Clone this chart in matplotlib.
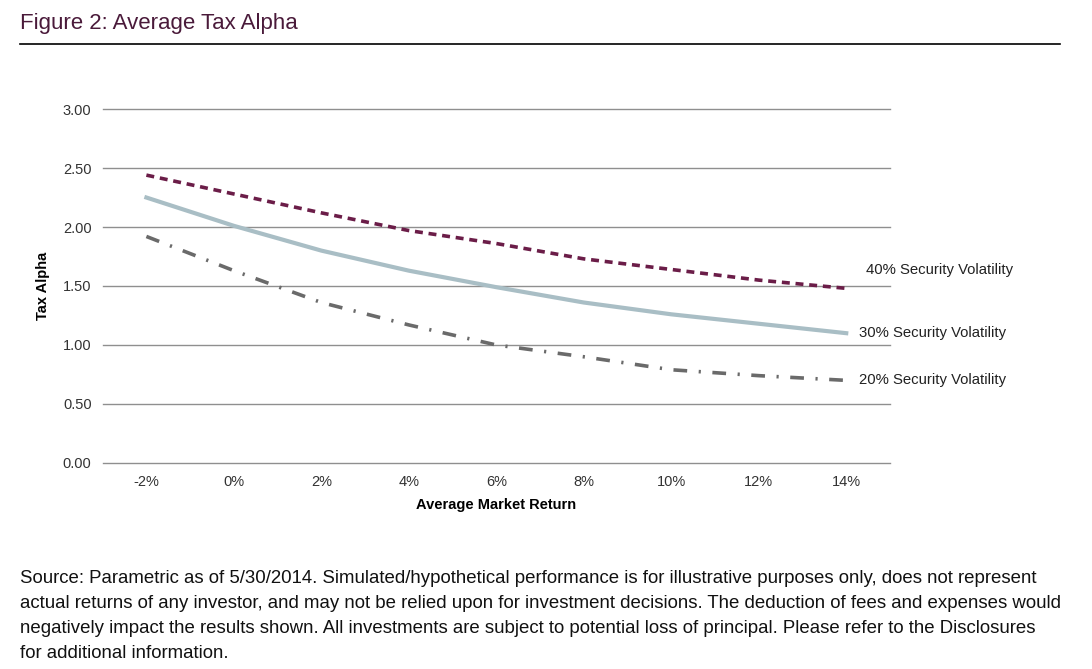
import matplotlib
matplotlib.use("Agg")
import matplotlib.pyplot as plt

plt.rcParams.update({"font.family": ["Liberation Sans", "DejaVu Sans"]})

returns = ["-2%", "0%", "2%", "4%", "6%", "8%", "10%", "12%", "14%"]
vol40 = [2.44, 2.28, 2.12, 1.97, 1.86, 1.73, 1.64, 1.55, 1.48]
vol30 = [2.25, 2.01, 1.80, 1.63, 1.49, 1.36, 1.26, 1.18, 1.10]
vol20 = [1.92, 1.63, 1.36, 1.17, 1.00, 0.90, 0.79, 0.74, 0.70]
yticks = [0.0, 0.5, 1.0, 1.5, 2.0, 2.5, 3.0]
series = [("40% Security Volatility", vol40), ("30% Security Volatility", vol30),
          ("20% Security Volatility", vol20)]

fig = plt.figure(figsize=(10.92, 6.69), dpi=100)
ax = fig.add_axes([0.094, 0.308, 0.721, 0.529])
x = range(len(returns))

ax.plot(x, vol40, color="#6b1d48", lw=2.6, ls=(0, (2.2, 1.6)))
ax.plot(x, vol30, color="#a9bec5", lw=3)
ax.plot(x, vol20, color="#6a6a6a", lw=2.6, ls=(0, (3.8, 3.2, 0.6, 3.2)))

offs = [(14, 13), (9, 0), (9, 0)]
for (lab, vals), (dx, dy) in zip(series, offs):
    ax.annotate(lab, xy=(len(vals) - 1, vals[-1]), xytext=(dx, dy), textcoords="offset points",
                ha="left", va="center", fontsize=10.7, color="#222222")

ax.set_xlim(-0.5, len(returns) - 0.5)
ax.set_ylim(0, 3)
ax.set_yticks(yticks)
ax.set_yticklabels([f"{v:.2f}" for v in yticks])
ax.set_xticks(list(x))
ax.set_xticklabels(returns)
ax.tick_params(length=0, labelsize=10.5, colors="#333333", pad=9)
ax.tick_params(axis="y", pad=8)
ax.grid(axis="y", color="#8f8f8f", lw=1)
for gl in ax.get_ygridlines():
    gl.set_clip_on(False)
ax.set_axisbelow(True)
for s in ax.spines.values():
    s.set_visible(False)
ax.set_xlabel("Average Market Return", fontsize=10.5, fontweight="bold", labelpad=6)
ax.set_ylabel("Tax Alpha", fontsize=10.5, fontweight="bold", labelpad=9)

fig.text(0.018, 0.965, "Figure 2: Average Tax Alpha", fontsize=16, color="#4a1a3a", va="center")
fig.add_artist(plt.Line2D([0.018, 0.971], [0.934, 0.934], color="black", lw=1.2))

note = ("Source: Parametric as of 5/30/2014. Simulated/hypothetical performance is for illustrative purposes only, does not represent\n"
        "actual returns of any investor, and may not be relied upon for investment decisions. The deduction of fees and expenses would\n"
        "negatively impact the results shown. All investments are subject to potential loss of principal. Please refer to the Disclosures\n"
        "for additional information.")
fig.text(0.018, 0.148, note, fontsize=13.4, color="#111111", va="top", linespacing=1.62)

fig.savefig("out.png", dpi=100)
